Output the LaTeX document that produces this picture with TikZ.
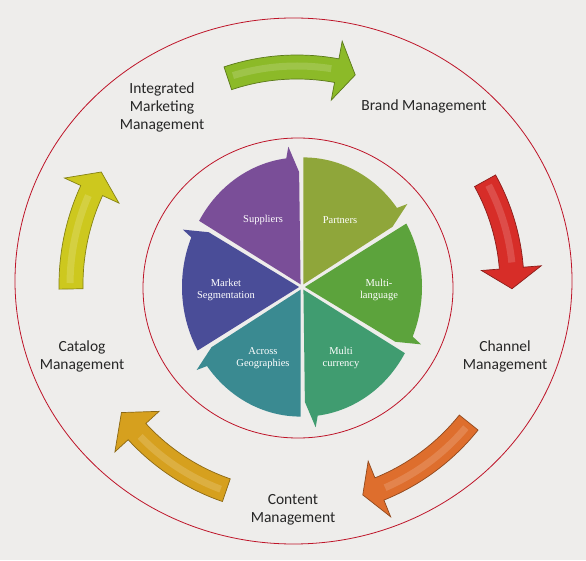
\documentclass[tikz,border=0pt]{standalone}
\usepackage{fontspec}
\setmainfont{Carlito}
\newfontfamily\piefont{Liberation Serif}
\definecolor{paper}{RGB}{238,237,235}
\definecolor{ringred}{RGB}{190,20,40}
\definecolor{arrgreen}{RGB}{140,186,40}
\definecolor{arrred}{RGB}{215,45,40}
\definecolor{arrorange}{RGB}{222,110,45}
\definecolor{arrgold}{RGB}{214,160,30}
\definecolor{arryellow}{RGB}{205,200,30}
\definecolor{supp}{RGB}{122,78,152}
\definecolor{part}{RGB}{143,166,58}
\definecolor{lang}{RGB}{92,163,60}
\definecolor{curr}{RGB}{64,156,112}
\definecolor{geo}{RGB}{58,138,145}
\definecolor{seg}{RGB}{74,77,152}
\tikzstyle{mgmt} = [align=center, font=\fontsize{15.5}{18}\selectfont, text=black!85]
\tikzstyle{piece} = [align=center, font=\piefont\fontsize{10.5}{11.5}\selectfont, text=white]
\tikzstyle{ring} = [draw=ringred, line width=0.8pt]

% curved arrow round the cycle: tail, head base, tip angle, radius, colour
\newcommand{\cyclearrow}[5]{%
  \pgfmathsetmacro\aro{#4+12}
  \pgfmathsetmacro\ari{#4-12}
  \pgfmathsetmacro\aho{#4+30}
  \pgfmathsetmacro\ahi{#4-30}
  \fill[#5, draw=#5!65!black, line width=0.7] ({#1}:\aro) arc[start angle=#1, end angle=#2, radius=\aro]
    -- ({#2}:\aho) -- ({#3}:#4) -- ({#2}:\ahi) -- ({#2}:\ari)
    arc[start angle=#2, end angle=#1, radius=\ari] -- cycle;
  \draw[#5!55!white, opacity=0.35, line width=7] ({#1-1.5}:#4+1) arc[start angle=#1-1.5, end angle=#2+1.5, radius=#4+1];
}
% one piece of the pie: start angle, colour
\newcommand{\piesector}[2]{%
  \pgfmathsetmacro\secend{#1-60}
  \pgfmathsetmacro\secmid{#1-30}
  \fill[#2, shift={(\secmid:3)}] (0,0) -- (#1:122) arc[start angle=#1, end angle=\secend+7, radius=122]
    -- ({\secend+5.5}:133) -- ({\secend+0.8}:108) -- cycle;
}

\begin{document}
\begin{tikzpicture}[x=1pt, y=1pt]
\fill[paper] (0,0) rectangle (586,560);
\useasboundingbox (0,0) rectangle (586,560);

% rings
\draw[ring] (293.5,279) ellipse [x radius=278.5, y radius=263];
\draw[ring] (298,272) ellipse [x radius=155, y radius=150];

% arrows
\begin{scope}[shift={(297,275)}]
\cyclearrow{108.5}{79.5}{74.5}{218}{arrgreen}
\cyclearrow{29}{4.5}{-1}{215}{arrred}
\cyclearrow{-38.7}{-68}{-72.6}{220}{arrorange}
\cyclearrow{-109}{-137.5}{-144}{217}{arrgold}
\cyclearrow{181}{155.3}{150}{226}{arryellow}
\end{scope}

% pie
\begin{scope}[shift={(302,273)}, xscale=0.96, yscale=1.04]
\piesector{150}{supp}
\piesector{90}{part}
\piesector{30}{lang}
\piesector{-30}{curr}
\piesector{-90}{geo}
\piesector{210}{seg}
\end{scope}

\node (s1) [piece] at (263,340) {Suppliers};
\node (s2) [piece] at (340,340) {Partners};
\node (s3) [piece] at (379,270) {Multi-\\language};
\node (s4) [piece] at (341,202) {Multi\\currency};
\node (s5) [piece] at (263,202) {Across\\Geographies};
\node (s6) [piece] at (226,270) {Market\\Segmentation};

\node (m1) [mgmt] at (162,453) {Integrated\\Marketing\\Management};
\node (m2) [mgmt] at (424,454) {Brand Management};
\node (m3) [mgmt] at (505,204) {Channel\\Management};
\node (m4) [mgmt] at (293,50) {Content\\Management};
\node (m5) [mgmt] at (82,204) {Catalog\\Management};

\end{tikzpicture}
\end{document}
